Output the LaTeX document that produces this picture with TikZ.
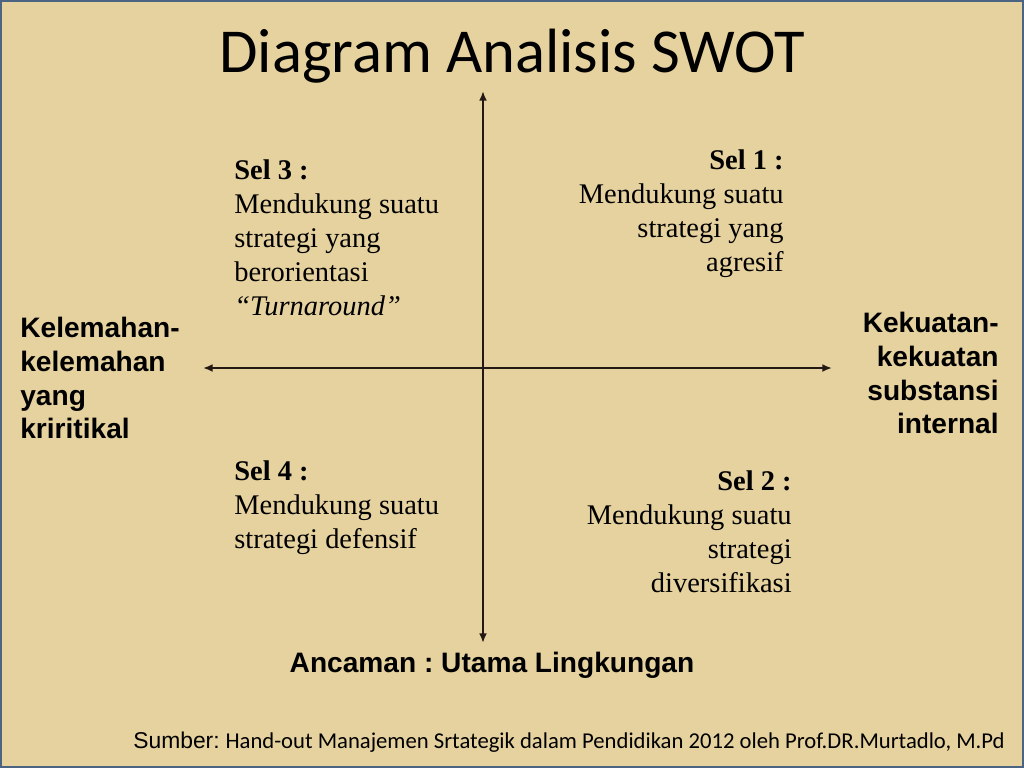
\documentclass[tikz,border=0pt]{standalone}
\usepackage{fontspec}
\newfontfamily\timesfont{Liberation Serif}
\newfontfamily\arialfont{Liberation Sans}
\newfontfamily\calibrifont{Carlito}
\usetikzlibrary{arrows.meta,positioning}
\definecolor{parchment}{RGB}{230,210,159}
\definecolor{frameblue}{RGB}{75,100,130}
\definecolor{axisink}{RGB}{35,25,20}
\tikzstyle{cell} = [font=\timesfont\fontsize{16.2}{19.4}\selectfont, inner sep=0pt]
\tikzstyle{side} = [font=\arialfont\bfseries\fontsize{16}{19.2}\selectfont, inner sep=0pt]
\tikzstyle{axis} = [axisink, line width=1.1pt, {Latex[length=5.5pt,width=4.5pt]}-{Latex[length=5.5pt,width=4.5pt]}]
\frenchspacing

\begin{document}
\begin{tikzpicture}[x=0.02cm,y=-0.02cm]
  % paper
  \useasboundingbox (0,0) rectangle (1024,768);
  \fill[parchment] (0,0) rectangle (1024,768);
  \draw[frameblue, line width=1pt] (1,1) rectangle (1023,767);

  % title
  \node[font=\calibrifont\fontsize{35.6}{42}\selectfont, anchor=base, inner sep=0pt] (title) at (512,72) {Diagram Analisis SWOT};

  % axes
  \coordinate (top) at (483,91);
  \coordinate (bottom) at (483,643);
  \coordinate (left) at (203,368);
  \coordinate (right) at (832,368);
  \draw[axis] (top) -- (bottom);
  \draw[axis] (left) -- (right);

  % cells
  \node[cell, anchor=north west, align=left] (sel3) at (234,159.5)
    {\textbf{Sel 3 :}\\Mendukung suatu\\strategi yang\\berorientasi\\\textit{“Turnaround”}};
  \node[cell, anchor=north east, align=right] (sel1) at (784,149.5)
    {\textbf{Sel 1 :}\\Mendukung suatu\\strategi yang\\agresif};
  \node[cell, anchor=north west, align=left] (sel4) at (234,460.5)
    {\textbf{Sel 4 :}\\Mendukung suatu\\strategi defensif};
  \node[cell, anchor=north east, align=right] (sel2) at (792,470.5)
    {\textbf{Sel 2 :}\\Mendukung suatu\\strategi\\diversifikasi};

  % sides
  \node[side, anchor=north west, align=left] (weak) at (20,317)
    {Kelemahan-\\kelemahan\\yang\\kriritikal};
  \node[side, anchor=north east, align=right] (strong) at (999,312)
    {Kekuatan-\\kekuatan\\substansi\\internal};
  \node[side, anchor=base] (threat) at (492,672) {Ancaman : Utama Lingkungan};

  % source
  \node[anchor=base west, inner sep=0pt] (source) at (133,748)
    {{\arialfont\fontsize{13}{15}\selectfont Sumber:} {\calibrifont\fontsize{12.9}{15}\selectfont Hand-out Manajemen Srtategik dalam Pendidikan 2012 oleh Prof.DR.Murtadlo, M.Pd}};
\end{tikzpicture}
\end{document}
